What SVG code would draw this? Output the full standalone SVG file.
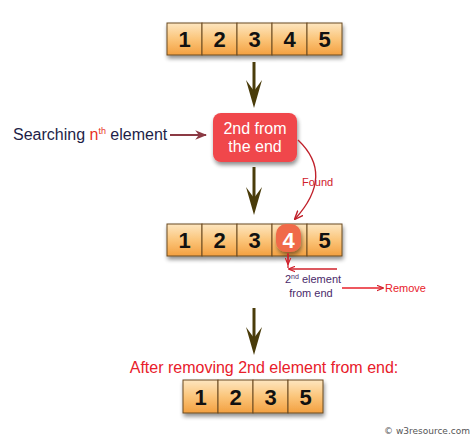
<svg xmlns="http://www.w3.org/2000/svg" width="474" height="441" viewBox="0 0 474 441">
<defs>
<linearGradient id="cellg" x1="0" y1="0" x2="0" y2="1">
<stop offset="0" stop-color="#fde6c0"/>
<stop offset="0.5" stop-color="#fbc57a"/>
<stop offset="1" stop-color="#f3a040"/>
</linearGradient>
<filter id="sh" x="-20%" y="-20%" width="140%" height="160%">
<feGaussianBlur in="SourceAlpha" stdDeviation="2"/>
<feOffset dx="1" dy="3"/>
<feComponentTransfer><feFuncA type="linear" slope="0.45"/></feComponentTransfer>
<feMerge><feMergeNode/><feMergeNode in="SourceGraphic"/></feMerge>
</filter>
<marker id="ar" viewBox="0 0 10 10" refX="9" refY="5" markerWidth="7" markerHeight="7" orient="auto" markerUnits="userSpaceOnUse">
<path d="M0,1 L10,5 L0,9" fill="none" stroke="#d0202a" stroke-width="1.6"/>
</marker>
<marker id="arm" viewBox="0 0 10 10" refX="9" refY="5" markerWidth="12" markerHeight="12" orient="auto" markerUnits="userSpaceOnUse">
<path d="M0,1 L10,5 L0,9 L3,5 Z" fill="#8b3a44"/>
</marker>
<marker id="arf" viewBox="0 0 10 10" refX="9" refY="5" markerWidth="9" markerHeight="9" orient="auto" markerUnits="userSpaceOnUse">
<path d="M0,1 L10,5 L0,9" fill="none" stroke="#c0202a" stroke-width="1.6"/>
</marker>
</defs>
<style>
.cell{fill:url(#cellg);stroke:#6b4a20;stroke-width:1}
.dg{font-family:"Liberation Sans",Arial,sans-serif;font-weight:bold;font-size:22px;fill:#111;text-anchor:middle}
.big{stroke:#4a3c0a;stroke-width:3}
.head{fill:#4a3c0a}
.t16{font-family:"Liberation Sans",Arial,sans-serif;font-size:16px}
.t11{font-family:"Liberation Sans",Arial,sans-serif;font-size:11px}
</style>
<rect width="474" height="441" fill="#ffffff"/>

<g id="array1" filter="url(#sh)">
<rect class="cell" x="167" y="23" width="35" height="32"/>
<rect class="cell" x="202" y="23" width="35" height="32"/>
<rect class="cell" x="237" y="23" width="35" height="32"/>
<rect class="cell" x="272" y="23" width="35" height="32"/>
<rect class="cell" x="307" y="23" width="35" height="32"/>
</g>
<g id="array1-text">
<text class="dg" x="184.5" y="47">1</text>
<text class="dg" x="219.5" y="47">2</text>
<text class="dg" x="254.5" y="47">3</text>
<text class="dg" x="289.5" y="47">4</text>
<text class="dg" x="324.5" y="47">5</text>
</g>

<g id="search-box">
<rect x="213" y="113" width="84" height="49" rx="8" fill="#f0474b" filter="url(#sh)"/>
<text class="t16" x="255" y="134" fill="#ffffff" text-anchor="middle">2nd from</text>
<text class="t16" x="255" y="152" fill="#ffffff" text-anchor="middle">the end</text>
</g>

<g id="search-label">
<text class="t16" x="13" y="140" fill="#1e1e48">Searching <tspan fill="#e8301e">n</tspan><tspan fill="#e8301e" font-size="9" dy="-6">th</tspan><tspan dy="6"> element</tspan></text>
</g>

<g id="array2" filter="url(#sh)">
<rect class="cell" x="167" y="224" width="35" height="32"/>
<rect class="cell" x="202" y="224" width="35" height="32"/>
<rect class="cell" x="237" y="224" width="35" height="32"/>
<rect class="cell" x="272" y="224" width="35" height="32"/>
<rect class="cell" x="307" y="224" width="35" height="32"/>
</g>
<g id="array2-text">
<text class="dg" x="184.5" y="248">1</text>
<text class="dg" x="219.5" y="248">2</text>
<text class="dg" x="254.5" y="248">3</text>
<rect x="276" y="224" width="25" height="28" rx="10" fill="#f06a48" filter="url(#sh)"/>
<text class="dg" x="288.5" y="248" fill="#ffffff" style="fill:#ffffff">4</text>
<text class="dg" x="324.5" y="248">5</text>
</g>

<g id="found-label">
<text class="t11" x="302" y="186" fill="#d0202a">Found</text>
</g>

<g id="target-label">
<text class="t11" x="313" y="283" fill="#4a2a6a" text-anchor="middle">2<tspan font-size="7" dy="-4">nd</tspan><tspan dy="4"> element</tspan></text>
<text class="t11" x="311" y="297" fill="#4a2a6a" text-anchor="middle">from end</text>
</g>

<g id="remove-label">
<text class="t11" x="385" y="292" fill="#e8202a" font-size="12">Remove</text>
</g>

<g id="after-label">
<text class="t16" x="264" y="373" fill="#e8202a" text-anchor="middle">After removing 2nd element from end:</text>
</g>

<g id="array3" filter="url(#sh)">
<rect class="cell" x="183" y="380" width="35" height="33"/>
<rect class="cell" x="218" y="380" width="35" height="33"/>
<rect class="cell" x="253" y="380" width="35" height="33"/>
<rect class="cell" x="288" y="380" width="35" height="33"/>
</g>
<g id="array3-text">
<text class="dg" x="200.5" y="405">1</text>
<text class="dg" x="235.5" y="405">2</text>
<text class="dg" x="270.5" y="405">3</text>
<text class="dg" x="305.5" y="405">5</text>
</g>

<g id="watermark">
<text x="470" y="434" font-family="'DejaVu Sans',sans-serif" font-size="9" fill="#555" text-anchor="end">© w3resource.com</text>
</g>

<g id="connectors">
<line class="big" x1="254" y1="62" x2="254" y2="100"/>
<path class="head" d="M254,108 L246,80 L254,91 L262,80 Z"/>
<line class="big" x1="254" y1="167" x2="254" y2="207"/>
<path class="head" d="M254,215 L246,187 L254,198 L262,187 Z"/>
<line class="big" x1="254" y1="308" x2="254" y2="347"/>
<path class="head" d="M254,355 L246,327 L254,338 L262,327 Z"/>
<line x1="170" y1="135" x2="206" y2="135" stroke="#8b3a44" stroke-width="2" marker-end="url(#arm)"/>
<path d="M298,140 Q335,175 295,219" fill="none" stroke="#c0202a" stroke-width="1.3" marker-end="url(#arf)"/>
<line x1="288" y1="253" x2="288" y2="268" stroke="#d0202a" stroke-width="1.3"/>
<line x1="288" y1="254" x2="288" y2="264" stroke="#d0202a" stroke-width="1.3" marker-end="url(#ar)"/>
<line x1="337" y1="269" x2="289" y2="269" stroke="#d0202a" stroke-width="1.5" marker-end="url(#ar)"/>
<line x1="342" y1="288" x2="383" y2="288" stroke="#e8202a" stroke-width="1.3" marker-end="url(#ar)"/>
</g>
</svg>
